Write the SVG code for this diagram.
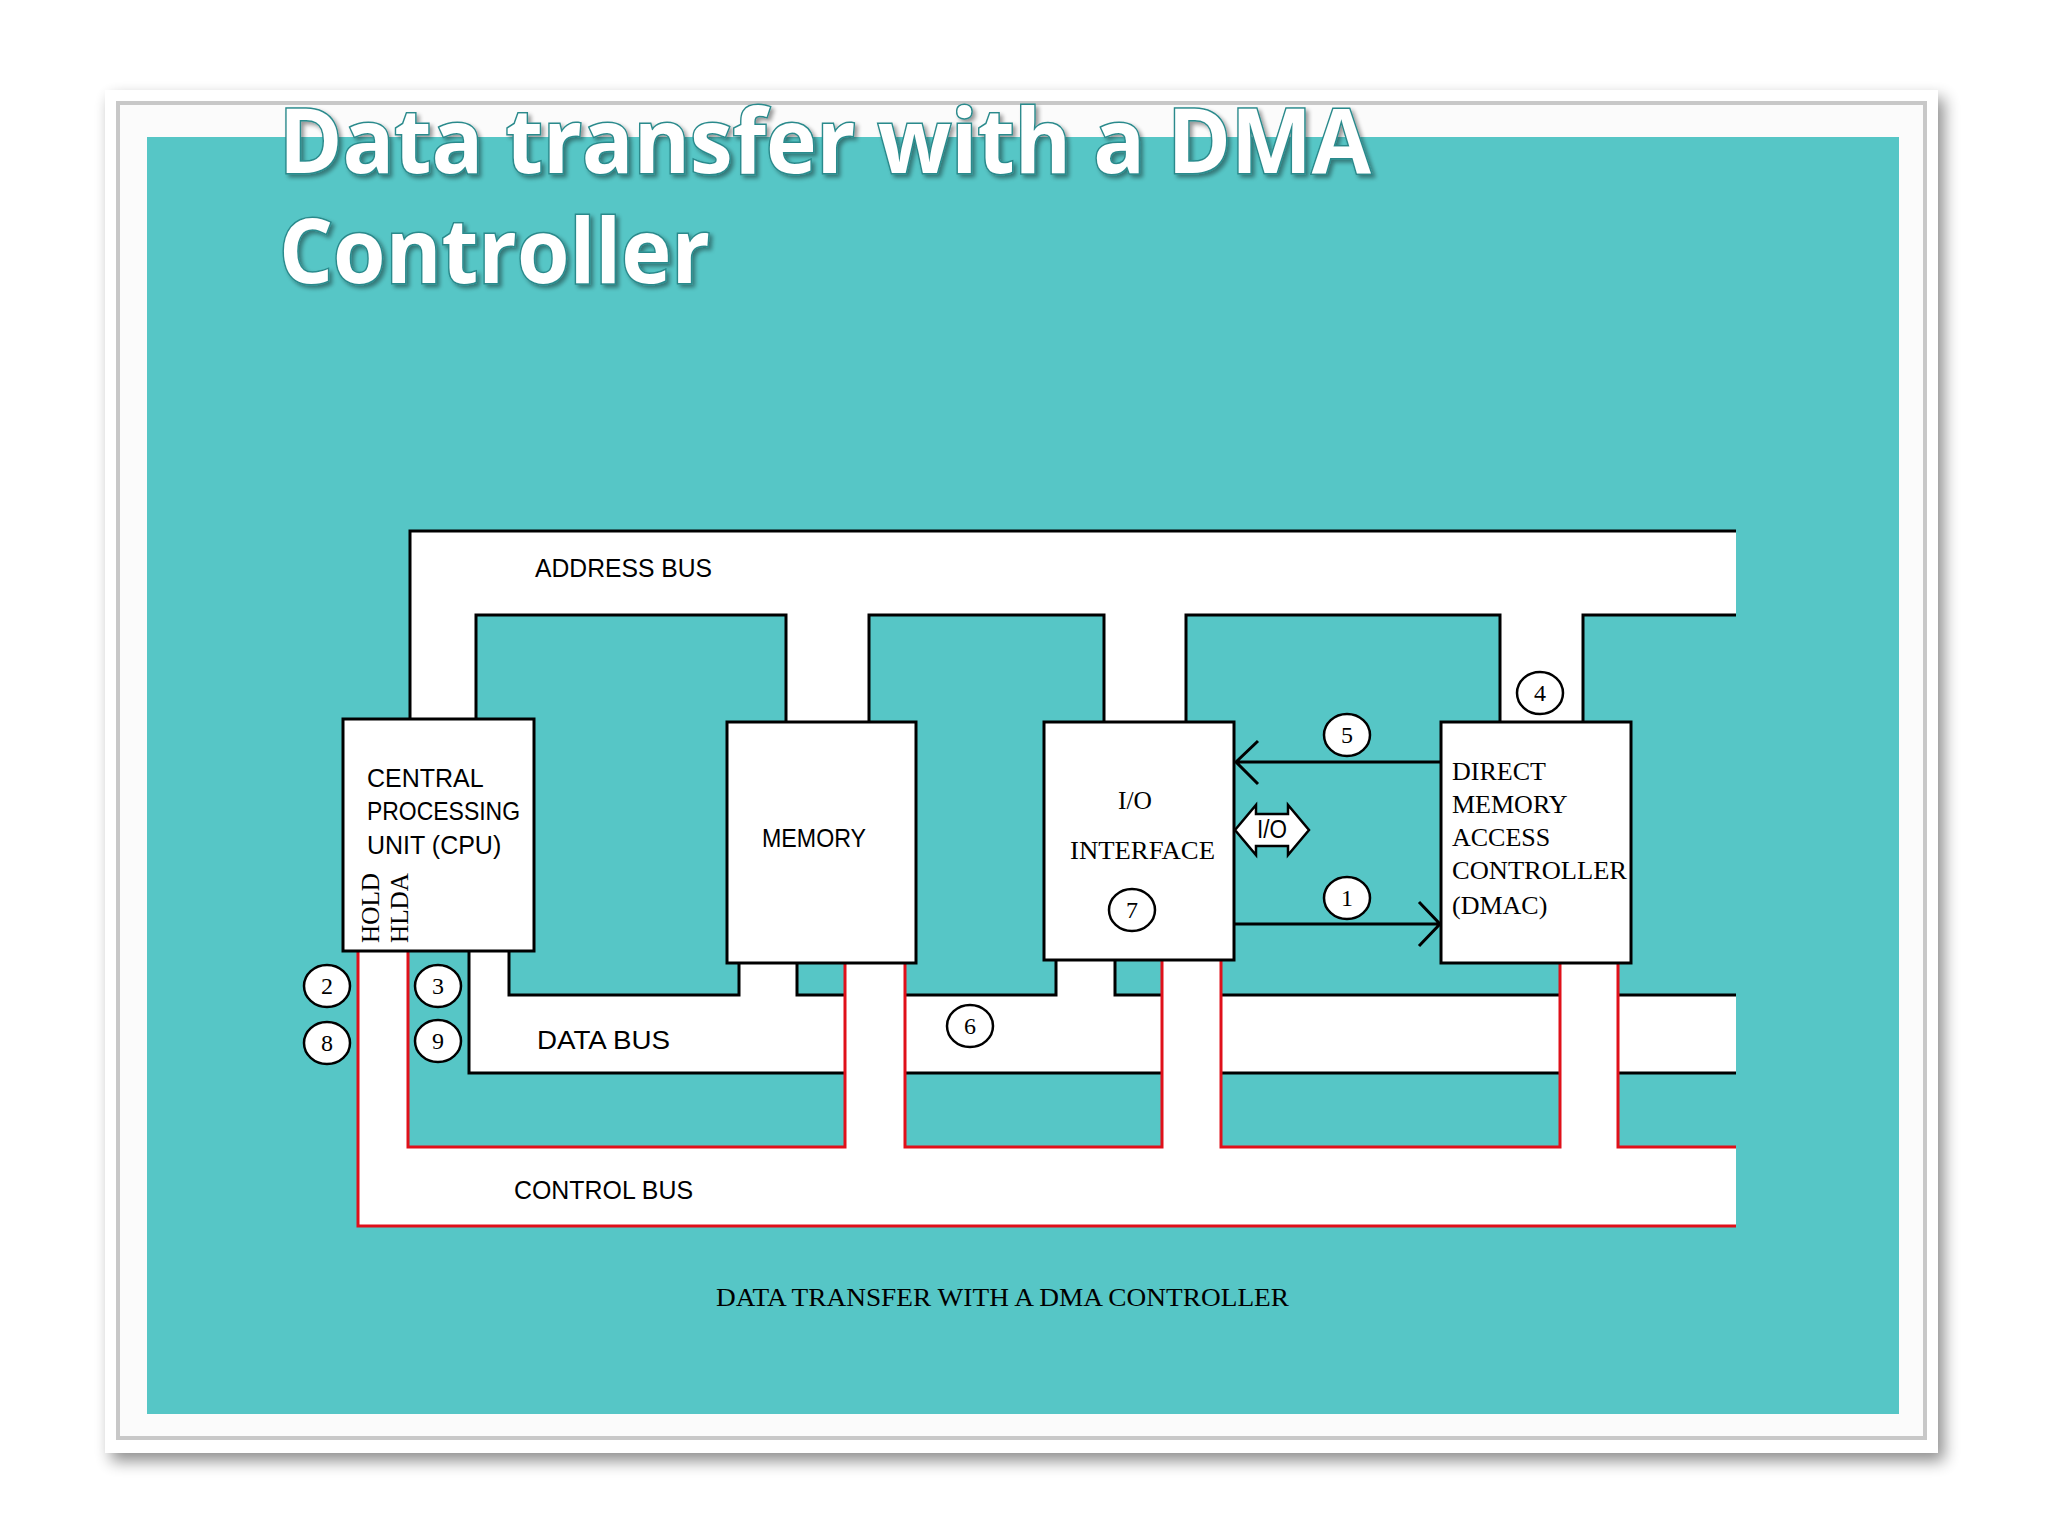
<svg xmlns="http://www.w3.org/2000/svg" width="2048" height="1536" viewBox="0 0 2048 1536">
<defs>
<filter id="sh" x="-5%" y="-5%" width="110%" height="110%"><feGaussianBlur in="SourceAlpha" stdDeviation="8"/><feOffset dx="6" dy="8"/><feComponentTransfer><feFuncA type="linear" slope="0.45"/></feComponentTransfer><feMerge><feMergeNode/><feMergeNode in="SourceGraphic"/></feMerge></filter>
<filter id="tsh"><feGaussianBlur in="SourceAlpha" stdDeviation="2"/><feOffset dx="3" dy="3"/><feComponentTransfer><feFuncA type="linear" slope="0.4"/></feComponentTransfer><feMerge><feMergeNode/><feMergeNode in="SourceGraphic"/></feMerge></filter>
</defs>
<style>
.sans{font-family:"Liberation Sans",Arial,sans-serif;font-size:25px;fill:#000}
.ser{font-family:"Liberation Serif","Times New Roman",serif;font-size:26px;fill:#000}
.num{font-family:"Liberation Serif",serif;font-size:24px;fill:#000;text-anchor:middle}
.blk{fill:none;stroke:#000;stroke-width:3}
.red{fill:none;stroke:#e0101a;stroke-width:3}
.box{fill:#fff;stroke:#000;stroke-width:3}
.circ{fill:#fff;stroke:#000;stroke-width:2.5}
.bus{fill:#fff}
.title{font-family:"Open Sans","Noto Sans",sans-serif;font-weight:bold;font-size:90px;fill:#fff;stroke:#2a8a8c;stroke-width:3;paint-order:stroke}
</style>
<rect width="2048" height="1536" fill="#fff"/>
<rect x="105" y="90" width="1833" height="1363" fill="#fff" filter="url(#sh)"/>
<rect x="118" y="103" width="1807" height="1335" fill="#fbfbfb" stroke="#c8c8c8" stroke-width="4"/>
<rect x="147" y="137" width="1752" height="1277" fill="#56c6c6"/>
<g id="title" filter="url(#tsh)">
<text class="title" x="279" y="173" textLength="1092" lengthAdjust="spacingAndGlyphs">Data transfer with a DMA</text>
<text class="title" x="279" y="283" textLength="431" lengthAdjust="spacingAndGlyphs">Controller</text>
</g>
<g id="connectors">
<g id="address-bus">
<rect class="bus" x="410" y="531" width="1326" height="84"/>
<rect class="bus" x="410" y="615" width="66" height="106"/>
<rect class="bus" x="786" y="615" width="83" height="108"/>
<rect class="bus" x="1104" y="615" width="82" height="108"/>
<rect class="bus" x="1500" y="615" width="83" height="108"/>
<path class="blk" d="M1736,531 H410 V721"/>
<path class="blk" d="M476,721 V615 H786 V722 M869,722 V615 H1104 V722 M1186,722 V615 H1500 V722 M1583,722 V615 H1736"/>
</g>
<g id="data-bus">
<rect class="bus" x="469" y="995" width="1267" height="78"/>
<rect class="bus" x="469" y="951" width="40" height="44"/>
<rect class="bus" x="739" y="963" width="58" height="32"/>
<rect class="bus" x="1056" y="960" width="59" height="35"/>
<path class="blk" d="M469,951 V1073 H1736 M509,951 V995 H739 V963 M797,963 V995 H1056 V960 M1115,960 V995 H1736"/>
</g>
<g id="control-bus">
<rect class="bus" x="358" y="1147" width="1378" height="79"/>
<rect class="bus" x="358" y="951" width="50" height="196"/>
<rect class="bus" x="845" y="963" width="60" height="184"/>
<rect class="bus" x="1162" y="960" width="59" height="187"/>
<rect class="bus" x="1560" y="963" width="58" height="184"/>
<path class="red" d="M358,951 V1226 H1736 M408,951 V1147 H845 V963 M905,963 V1147 H1162 V960 M1221,960 V1147 H1560 V963 M1618,963 V1147 H1736"/>
</g>
<g id="arrows">
<path class="blk" stroke-width="2" d="M1441,762 H1236 M1258,741 L1236,762 L1258,784"/>
<path class="blk" stroke-width="2" d="M1234,924 H1439 M1419,902 L1440,924 L1419,946"/>
<path fill="#fff" stroke="#000" stroke-width="2.5" d="M1235,830 L1256,805 V814 H1288 V805 L1309,830 L1288,855 V846 H1256 V855 Z"/>
<text class="sans" x="1272" y="838" text-anchor="middle" font-size="22" textLength="30" lengthAdjust="spacingAndGlyphs">I/O</text>
</g>
</g>
<g id="cpu">
<rect class="box" x="343" y="719" width="191" height="232"/>
<text class="sans" x="367" y="787">CENTRAL</text>
<text class="sans" x="367" y="820" textLength="153" lengthAdjust="spacingAndGlyphs">PROCESSING</text>
<text class="sans" x="367" y="854">UNIT (CPU)</text>
<text class="ser" transform="translate(379,943) rotate(-90)" textLength="70" lengthAdjust="spacingAndGlyphs">HOLD</text>
<text class="ser" transform="translate(408,943) rotate(-90)" textLength="70" lengthAdjust="spacingAndGlyphs">HLDA</text>
</g>
<g id="memory">
<rect class="box" x="727" y="722" width="189" height="241"/>
<text class="sans" x="762" y="847" textLength="104" lengthAdjust="spacingAndGlyphs">MEMORY</text>
</g>
<g id="io-interface">
<rect class="box" x="1044" y="722" width="190" height="238"/>
<text class="ser" x="1118" y="809" textLength="34" lengthAdjust="spacingAndGlyphs">I/O</text>
<text class="ser" x="1070" y="859" textLength="145" lengthAdjust="spacingAndGlyphs">INTERFACE</text>
</g>
<g id="dmac">
<rect class="box" x="1441" y="722" width="190" height="241"/>
<text class="ser" x="1452" y="780">DIRECT</text>
<text class="ser" x="1452" y="813">MEMORY</text>
<text class="ser" x="1452" y="846">ACCESS</text>
<text class="ser" x="1452" y="879" textLength="175" lengthAdjust="spacingAndGlyphs">CONTROLLER</text>
<text class="ser" x="1452" y="914">(DMAC)</text>
</g>
<g id="steps">
<ellipse class="circ" cx="1347" cy="898" rx="23" ry="21"/><text class="num" x="1347" y="906">1</text>
<ellipse class="circ" cx="327" cy="986" rx="23" ry="21"/><text class="num" x="327" y="994">2</text>
<ellipse class="circ" cx="438" cy="986" rx="23" ry="21"/><text class="num" x="438" y="994">3</text>
<ellipse class="circ" cx="1540" cy="693" rx="23" ry="21"/><text class="num" x="1540" y="701">4</text>
<ellipse class="circ" cx="1347" cy="735" rx="23" ry="21"/><text class="num" x="1347" y="743">5</text>
<ellipse class="circ" cx="970" cy="1026" rx="23" ry="21"/><text class="num" x="970" y="1034">6</text>
<ellipse class="circ" cx="1132" cy="910" rx="23" ry="21"/><text class="num" x="1132" y="918">7</text>
<ellipse class="circ" cx="327" cy="1043" rx="23" ry="21"/><text class="num" x="327" y="1051">8</text>
<ellipse class="circ" cx="438" cy="1041" rx="23" ry="21"/><text class="num" x="438" y="1049">9</text>
</g>
<g id="labels">
<text class="sans" x="535" y="577" textLength="177" lengthAdjust="spacingAndGlyphs">ADDRESS  BUS</text>
<text class="sans" x="537" y="1049" textLength="133" lengthAdjust="spacingAndGlyphs">DATA  BUS</text>
<text class="sans" x="514" y="1199" textLength="179" lengthAdjust="spacingAndGlyphs">CONTROL  BUS</text>
<text class="ser" x="716" y="1306" textLength="573" lengthAdjust="spacingAndGlyphs">DATA TRANSFER WITH A DMA CONTROLLER</text>
</g>
</svg>
